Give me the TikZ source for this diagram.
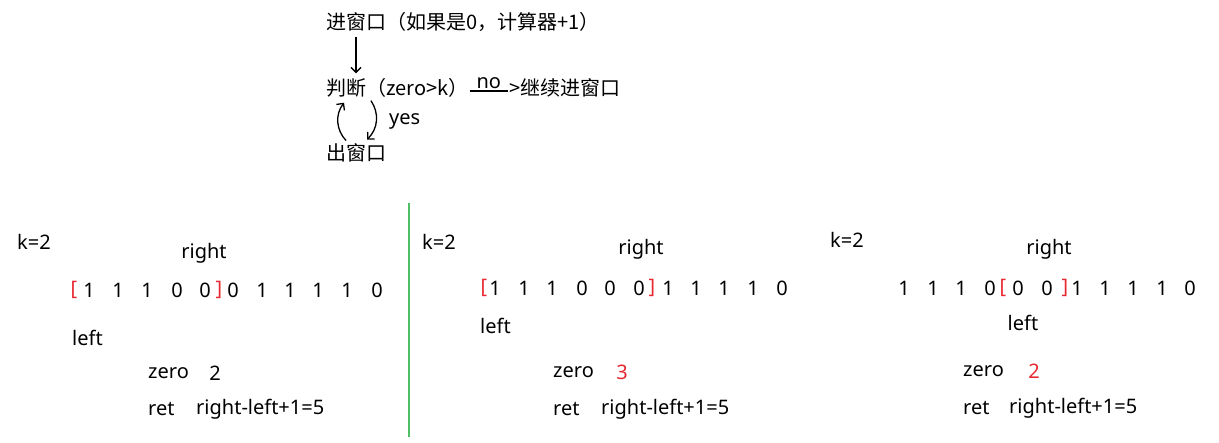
\documentclass[tikz,border=0pt]{standalone}
\usepackage{fontspec}
\setmainfont{Noto Sans}
\newfontfamily\cjk{Noto Sans CJK SC}
\usetikzlibrary{arrows,arrows.meta,calc,positioning}
\usepackage{xcolor}
\definecolor{winred}{RGB}{232,40,48}
\definecolor{wingreen}{RGB}{80,190,100}

\begin{document}
\begin{tikzpicture}[x=1pt,y=-1pt,
	  every node/.style={inner sep=1pt,font=\fontsize{20}{24}\selectfont},
	  txt/.style={anchor=west},
	  num/.style={anchor=center},
	  brk/.style={anchor=center,text=winred},
	  hot/.style={anchor=center,text=winred},
	  flow/.style={->,>={Straight Barb[length=5pt,width=10pt,line width=1.3pt]},line width=1.3pt},
	  rule/.style={draw=wingreen,line width=1.5pt}]
	  \useasboundingbox (0,0) rectangle (1219,443);

	  % flow of the window at the top
	  \node[txt] (entry) at (325,22) {\cjk 进窗口（如果是0，计算器+1）};
	  \node[txt] (judge) at (325,88) {\cjk 判断（zero>k）};
	  \node[txt] (cont) at (508,88) {\cjk >继续进窗口};
	  \node[txt] (out) at (325,153) {\cjk 出窗口};
	  \node[txt] (yes) at (388,121) {yes};
	  \draw[flow,shorten <=4pt,shorten >=4pt] ([xshift=31pt]entry.south west) -- ([xshift=31pt]judge.north west);
	  \draw[line width=1.3pt] ([yshift=-3pt]judge.east) -- node[above,inner sep=2pt] {no} ([yshift=-3pt]cont.west);
	  \draw[flow] ([xshift=46pt,yshift=-2pt]judge.south west) to[bend left=40] ([xshift=42pt,yshift=3pt]out.north west);
	  \draw[flow] ([xshift=21pt,yshift=2pt]out.north west) to[bend left=40] ([xshift=19pt,yshift=-4pt]judge.south west);

	  % separator
	  \coordinate (septop) at (409,203);
	  \coordinate (sepbot) at (409,437);
	  \draw[rule] (septop) -- (sepbot);

	  % first window
	  \node[txt] (ka) at (16,242) {k=2};
	  \node[num] (righta) at (204,253) {right};
	  \foreach \x/\d [count=\i] in {89/1,118/1,147/1,177/0,205/0,233/0,262/1,290/1,318/1,347/1,377/0}
	    \node[num] (a\i) at (\x,290) {\d};
	  \node[brk] (aopen) at (74,290) {[};
	  \node[brk] (aclose) at (219,290) {]};
	  \node[txt] (lefta) at (71,338) {left};
	  \node[txt] (zeroa) at (147,373) {zero};
	  \node[num] (zvala) at (215,373) {2};
	  \node[txt] (reta) at (147,409) {ret};
	  \node[txt] (lena) at (195,409) {right-left+1=5};

	  % second window
	  \node[txt] (kb) at (421,242) {k=2};
	  \node[num] (rightb) at (641,249) {right};
	  \foreach \x/\d [count=\i] in {495/1,524/1,552/1,582/0,610/0,639/0,668/1,696/1,724/1,753/1,782/0}
	    \node[num] (b\i) at (\x,288) {\d};
	  \node[brk] (bopen) at (484,288) {[};
	  \node[brk] (bclose) at (652,288) {]};
	  \node[txt] (leftb) at (479,326) {left};
	  \node[txt] (zerob) at (552,372) {zero};
	  \node[hot] (zvalb) at (622,372) {3};
	  \node[txt] (retb) at (552,409) {ret};
	  \node[txt] (lenb) at (600,409) {right-left+1=5};

	  % third window
	  \node[txt] (kc) at (829,240) {k=2};
	  \node[num] (rightc) at (1049,249) {right};
	  \foreach \x/\d [count=\i] in {904/1,933/1,961/1,990/0,1018/0,1047/0,1077/1,1105/1,1133/1,1162/1,1190/0}
	    \node[num] (c\i) at (\x,288) {\d};
	  \node[brk] (copen) at (1003,288) {[};
	  \node[brk] (cclose) at (1065,288) {]};
	  \node[num] (leftc) at (1023,323) {left};
	  \node[txt] (zeroc) at (962,371) {zero};
	  \node[hot] (zvalc) at (1034,371) {2};
	  \node[txt] (retc) at (962,408) {ret};
	  \node[txt] (lenc) at (1008,408) {right-left+1=5};

\end{tikzpicture}
\end{document}
